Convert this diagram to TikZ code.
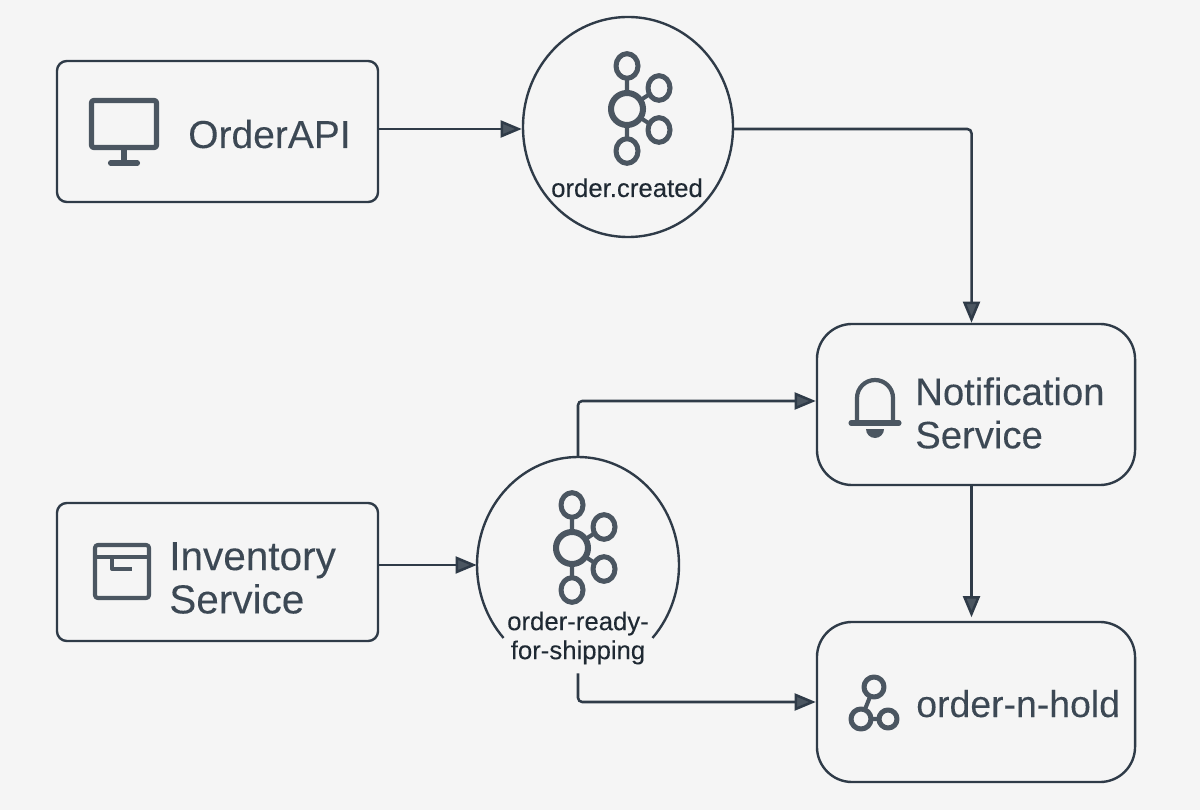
\documentclass[tikz,border=0pt]{standalone}
\usepackage{fontspec}
\setmainfont{Liberation Sans}[FakeBold=0.12]
\usetikzlibrary{arrows.meta,calc,shapes.geometric}
\definecolor{paper}{HTML}{F5F5F5}
\definecolor{edgeink}{HTML}{2F3B48}
\definecolor{iconink}{HTML}{4B5661}
\definecolor{wordink}{HTML}{3C4854}
\definecolor{topicink}{HTML}{1F2933}
\tikzset{
    service/.style={draw=edgeink,line width=1.7pt,minimum width=8.025cm,inner sep=0pt},
    slimbox/.style={service,rounded corners=7pt},
    widebox/.style={service,rounded corners=25pt,minimum width=7.95cm,minimum height=4cm},
    topic/.style={ellipse,inner sep=0pt},
    boxname/.style={text=wordink,inner sep=0pt,align=left,font=\fontsize{#1}{30.8}\selectfont},
    topicname/.style={text=topicink,inner sep=0pt,align=center,font=\fontsize{18.3}{20.6}\selectfont},
    flow/.style={draw=edgeink,line width=1.8pt,rounded corners=3pt,-{Triangle[length=15pt,width=12pt,fill=iconink]}},
    glyph/.style={draw=iconink,line width=3.6pt,line cap=round,line join=round},
    kafka/.pic={
        \draw [glyph,line width=2.9pt] (0,0) -- (0,43) (0,0) -- (0,-42) (0,0) -- (32,21) (0,0) -- (32,-21);
        \draw [glyph,fill=paper,line width=4.3pt] (0,0) circle (16);
        \draw [glyph,fill=paper] (0,43) ellipse (11 and 12.3);
        \draw [glyph,fill=paper] (0,-42) ellipse (11 and 12.3);
        \draw [glyph,fill=paper] (32,21) ellipse (11 and 12.3);
        \draw [glyph,fill=paper] (32,-21) ellipse (11 and 12.3);
    }
}
\begin{document}
\begin{tikzpicture}[x=0.025cm,y=0.025cm]
    \fill [paper] (0,0) rectangle (1200,810);
    \useasboundingbox (0,0) rectangle (1200,810);

    \node [slimbox,minimum height=3.525cm] (api) at (217.5,678.5) {};
    \node [slimbox,minimum height=3.45cm] (inventory) at (217.5,238) {};
    \node [widebox,minimum height=4.025cm] (notify) at (976,405.5) {};
    \node [widebox] (hold) at (976,108) {};
    \node [topic,draw=edgeink,line width=1.7pt,minimum width=5.25cm,minimum height=5.5cm] (created) at (628,683) {};
    \node [topic,minimum width=5.05cm,minimum height=5.4cm] (ready) at (578,245) {};
    \draw [edgeink,line width=1.7pt] ($(ready.center)+(-42.5:101 and 108)$) arc [start angle=-42.5,end angle=222.5,x radius=101,y radius=108];

    \node [boxname=27.7,anchor=base west] (apiname) at (188,662) {OrderAPI};
    \node [boxname=28.8,anchor=west] (inventoryname) at (169,232) {Inventory\\Service};
    \node [boxname=27.2,anchor=west] (notifyname) at (915,397) {Notification\\Service};
    \node [boxname=26.6,anchor=base west] (holdname) at (916,93) {order-n-hold};
    \node [topicname,anchor=base] (createdname) at (627,613) {order.created};
    \node [topicname] (readyname) at (578,172) {order-ready-\\for-shipping};

    \coordinate (apirow) at (0,681);
    \coordinate (notifyrow) at (0,409);
    \coordinate (downcol) at (971.5,0);

    \draw [flow] (api.east |- apirow) -- (created.west |- apirow);
    \draw [flow] (created.east |- apirow) -| (downcol |- notify.north);
    \draw [flow,shorten >=2.5pt] (downcol |- notify.south) -- (downcol |- hold.north);
    \draw [flow] (inventory.east |- ready.west) -- (ready.west);
    \draw [flow] (ready.north) |- (notify.west |- notifyrow);
    \draw [flow] (ready.south) |- (hold.west);

    \draw [glyph,rounded corners=1.5pt] (91.5,662.5) rectangle (156.5,709.5);
    \draw [glyph] (124,660) -- (124,647);
    \draw [glyph] (110.5,647) -- (137.5,647);

    \pic at (627,701) {kafka};
    \pic at (572,262) {kafka};

    \draw [glyph,line width=2.9pt,rounded corners=2pt] (95,212) rectangle (149,265);
    \draw [glyph,line width=2.9pt,line cap=butt] (95,253) -- (149,253);
    \draw [glyph,line width=2.9pt,line cap=butt] (112,253) -- (112,241) -- (132,241);

    \draw [glyph,line width=3pt,line cap=butt] (857,388) -- (857,412) arc [start angle=180,end angle=0,radius=18] -- (893,388);
    \draw [glyph] (851,387) -- (899,387);
    \fill [iconink] (866,381) arc [start angle=180,end angle=360,radius=9] -- cycle;

    \draw [glyph,line width=2.9pt] (874,123) -- (861,91) -- (888,91);
    \draw [glyph,fill=paper] (874,123) circle (10);
    \draw [glyph,fill=paper] (861,91) circle (10);
    \draw [glyph,fill=paper] (888,91) circle (9);
\end{tikzpicture}
\end{document}
